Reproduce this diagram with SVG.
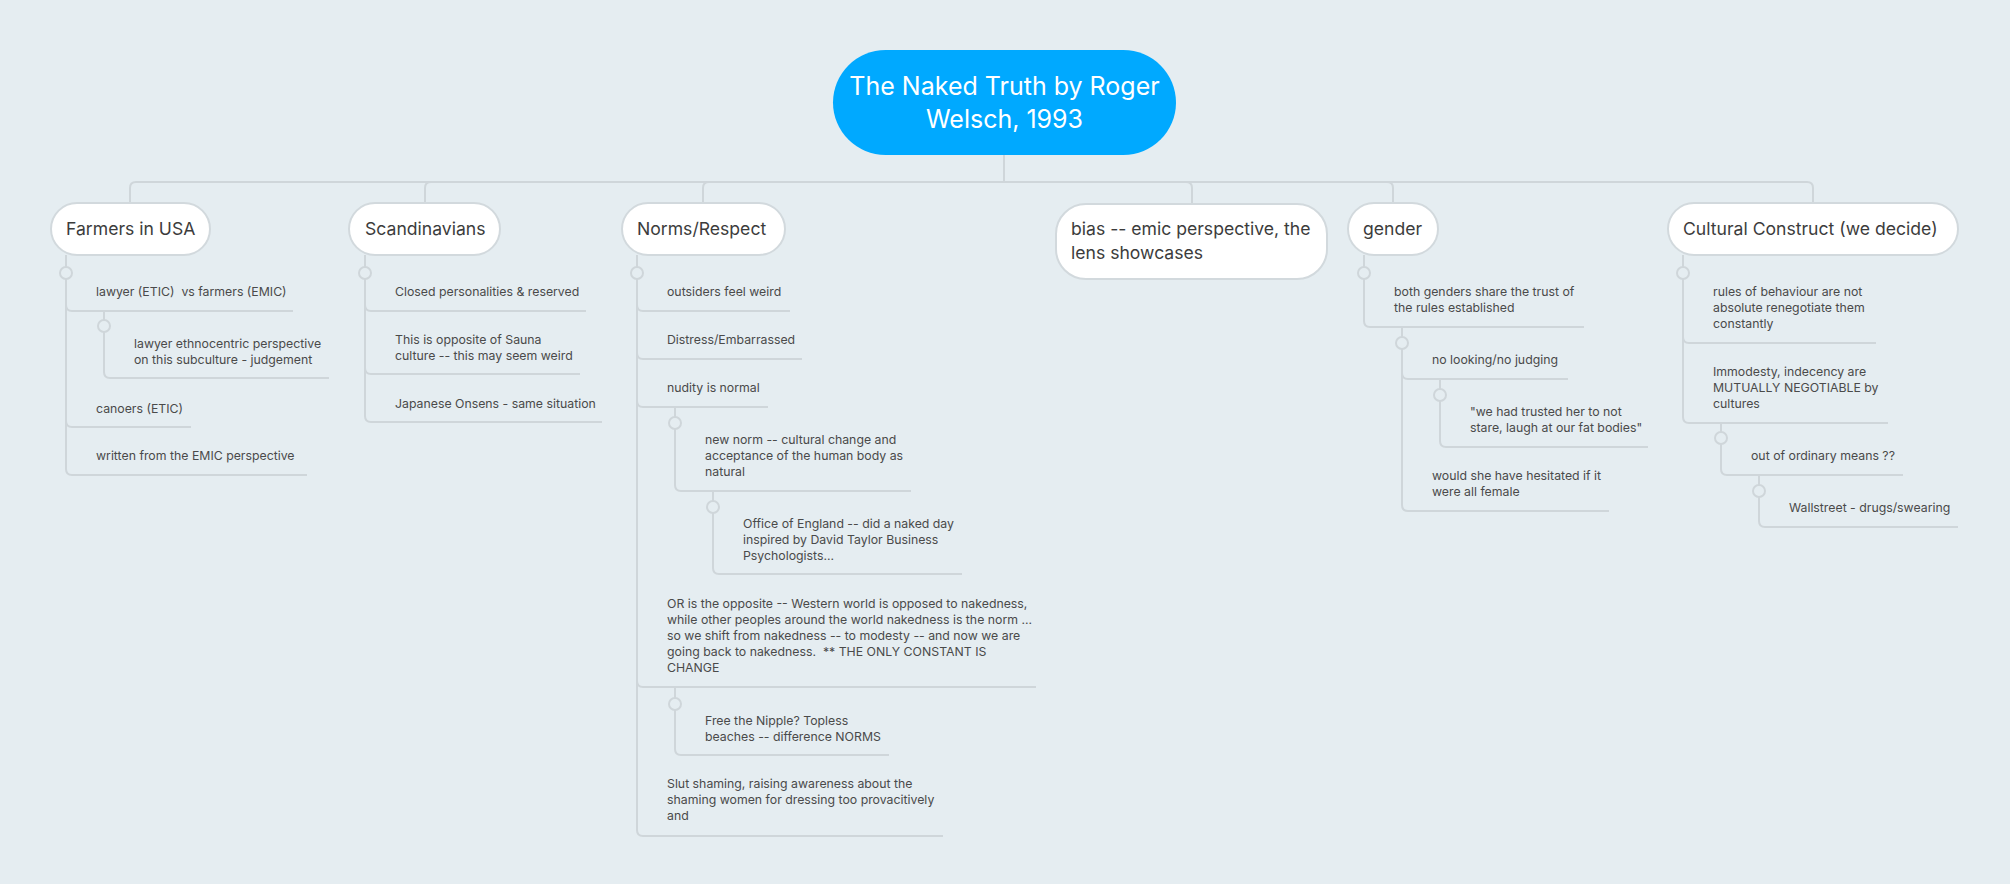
<svg xmlns="http://www.w3.org/2000/svg" width="2010" height="884" viewBox="0 0 2010 884">
<style>
.bg{fill:#e5edf1}
.ln{fill:none;stroke:#cfd6da;stroke-width:2}
.node{fill:#ffffff;stroke:#d2d9dd;stroke-width:2}
.dot{fill:#e5edf1;stroke:#cfd6da;stroke-width:2}
.nt{font-family:Inter,"Liberation Sans",sans-serif;font-size:17.6px;fill:#3c3c3c}
.ct{font-family:Inter,"Liberation Sans",sans-serif;font-size:12.3px;fill:#4a4a4a}
.rt{font-family:Inter,"Liberation Sans",sans-serif;font-size:25px;fill:#ffffff;text-anchor:middle}
</style>
<rect class="bg" x="0" y="0" width="2010" height="884"/>
<g id="connectors">
<path class="ln" d="M1004,155 V182 H136 Q130,182 130,188 V203"/>
<path class="ln" d="M1004,155 V182 H431 Q425,182 425,188 V203"/>
<path class="ln" d="M1004,155 V182 H709 Q703,182 703,188 V203"/>
<path class="ln" d="M1004,155 V182 H1186 Q1192,182 1192,188 V204"/>
<path class="ln" d="M1004,155 V182 H1387 Q1393,182 1393,188 V203"/>
<path class="ln" d="M1004,155 V182 H1807 Q1813,182 1813,188 V203"/>
<path class="ln" d="M66,255 V305 Q66,311 72,311 H293"/>
<path class="ln" d="M104,311 V372 Q104,378 110,378 H329"/>
<path class="ln" d="M66,255 V421 Q66,427 72,427 H191"/>
<path class="ln" d="M66,255 V469 Q66,475 72,475 H307"/>
<path class="ln" d="M365,255 V305 Q365,311 371,311 H586"/>
<path class="ln" d="M365,255 V368 Q365,374 371,374 H580"/>
<path class="ln" d="M365,255 V416 Q365,422 371,422 H602"/>
<path class="ln" d="M637,255 V305 Q637,311 643,311 H790"/>
<path class="ln" d="M637,255 V353 Q637,359 643,359 H802"/>
<path class="ln" d="M637,255 V401 Q637,407 643,407 H768"/>
<path class="ln" d="M675,407 V485 Q675,491 681,491 H911"/>
<path class="ln" d="M713,491 V568 Q713,574 719,574 H962"/>
<path class="ln" d="M637,255 V681 Q637,687 643,687 H1036"/>
<path class="ln" d="M675,687 V749 Q675,755 681,755 H889"/>
<path class="ln" d="M637,255 V830 Q637,836 643,836 H943"/>
<path class="ln" d="M1364,255 V321 Q1364,327 1370,327 H1584"/>
<path class="ln" d="M1402,327 V373 Q1402,379 1408,379 H1568"/>
<path class="ln" d="M1440,379 V441 Q1440,447 1446,447 H1648"/>
<path class="ln" d="M1402,327 V505 Q1402,511 1408,511 H1609"/>
<path class="ln" d="M1683,255 V337 Q1683,343 1689,343 H1876"/>
<path class="ln" d="M1683,255 V417 Q1683,423 1689,423 H1888"/>
<path class="ln" d="M1721,423 V469 Q1721,475 1727,475 H1903"/>
<path class="ln" d="M1759,475 V521 Q1759,527 1765,527 H1958"/>
<circle class="dot" cx="66" cy="273" r="6"/>
<circle class="dot" cx="104" cy="326" r="6"/>
<circle class="dot" cx="365" cy="273" r="6"/>
<circle class="dot" cx="637" cy="273" r="6"/>
<circle class="dot" cx="675" cy="423" r="6"/>
<circle class="dot" cx="713" cy="507" r="6"/>
<circle class="dot" cx="675" cy="704" r="6"/>
<circle class="dot" cx="1364" cy="273" r="6"/>
<circle class="dot" cx="1402" cy="343" r="6"/>
<circle class="dot" cx="1440" cy="395" r="6"/>
<circle class="dot" cx="1683" cy="273" r="6"/>
<circle class="dot" cx="1721" cy="438" r="6"/>
<circle class="dot" cx="1759" cy="491" r="6"/>
</g>
<g id="root">
<rect x="833" y="50" width="343" height="105" rx="52.5" fill="#00a9ff"/>
<text class="rt" x="1004.5" y="95">The Naked Truth by Roger</text>
<text class="rt" x="1004.5" y="128">Welsch, 1993</text>
</g>
<g id="farmers">
<rect class="node" x="51" y="203" width="159" height="52" rx="26"/>
<text class="nt" x="66" y="235">Farmers in USA</text>
</g>
<g id="farmers-c1"><text class="ct" x="96" y="296">lawyer (ETIC)&#160; vs farmers (EMIC)</text></g>
<g id="farmers-c1a"><text class="ct" x="134" y="348">lawyer ethnocentric perspective</text><text class="ct" x="134" y="364">on this subculture - judgement</text></g>
<g id="farmers-c2"><text class="ct" x="96" y="413">canoers (ETIC)</text></g>
<g id="farmers-c3"><text class="ct" x="96" y="460">written from the EMIC perspective</text></g>
<g id="scandinavians">
<rect class="node" x="349" y="203" width="151" height="52" rx="26"/>
<text class="nt" x="365" y="235">Scandinavians</text>
</g>
<g id="scand-c1"><text class="ct" x="395" y="296">Closed personalities &amp; reserved</text></g>
<g id="scand-c2"><text class="ct" x="395" y="344">This is opposite of Sauna</text><text class="ct" x="395" y="360">culture -- this may seem weird</text></g>
<g id="scand-c3"><text class="ct" x="395" y="408">Japanese Onsens - same situation</text></g>
<g id="norms">
<rect class="node" x="622" y="203" width="163" height="52" rx="26"/>
<text class="nt" x="637" y="235">Norms/Respect</text>
</g>
<g id="norms-c1"><text class="ct" x="667" y="296">outsiders feel weird</text></g>
<g id="norms-c2"><text class="ct" x="667" y="344">Distress/Embarrassed</text></g>
<g id="norms-c3"><text class="ct" x="667" y="392">nudity is normal</text></g>
<g id="norms-c3a"><text class="ct" x="705" y="444">new norm -- cultural change and</text><text class="ct" x="705" y="460">acceptance of the human body as</text><text class="ct" x="705" y="476">natural</text></g>
<g id="norms-c3b"><text class="ct" x="743" y="528">Office of England -- did a naked day</text><text class="ct" x="743" y="544">inspired by David Taylor Business</text><text class="ct" x="743" y="560">Psychologists...</text></g>
<g id="norms-c4"><text class="ct" x="667" y="608">OR is the opposite -- Western world is opposed to nakedness,</text><text class="ct" x="667" y="624">while other peoples around the world nakedness is the norm ...</text><text class="ct" x="667" y="640">so we shift from nakedness -- to modesty -- and now we are</text><text class="ct" x="667" y="656">going back to nakedness.&#160; ** THE ONLY CONSTANT IS</text><text class="ct" x="667" y="672">CHANGE</text></g>
<g id="norms-c4a"><text class="ct" x="705" y="725">Free the Nipple? Topless</text><text class="ct" x="705" y="741">beaches -- difference NORMS</text></g>
<g id="norms-c5"><text class="ct" x="667" y="788">Slut shaming, raising awareness about the</text><text class="ct" x="667" y="804">shaming women for dressing too provacitively</text><text class="ct" x="667" y="820">and</text></g>
<g id="bias">
<rect class="node" x="1056" y="204" width="271" height="75" rx="30"/>
<text class="nt" x="1071" y="235">bias -- emic perspective, the</text>
<text class="nt" x="1071" y="259">lens showcases</text>
</g>
<g id="gender">
<rect class="node" x="1348" y="203" width="90" height="52" rx="26"/>
<text class="nt" x="1363" y="235">gender</text>
</g>
<g id="gender-c1"><text class="ct" x="1394" y="296">both genders share the trust of</text><text class="ct" x="1394" y="312">the rules established</text></g>
<g id="gender-c1a"><text class="ct" x="1432" y="364">no looking/no judging</text></g>
<g id="gender-c1a1"><text class="ct" x="1470" y="416">"we had trusted her to not</text><text class="ct" x="1470" y="432">stare, laugh at our fat bodies"</text></g>
<g id="gender-c1b"><text class="ct" x="1432" y="480">would she have hesitated if it</text><text class="ct" x="1432" y="496">were all female</text></g>
<g id="cultural">
<rect class="node" x="1668" y="203" width="290" height="52" rx="26"/>
<text class="nt" x="1683" y="235">Cultural Construct (we decide)</text>
</g>
<g id="cult-c1"><text class="ct" x="1713" y="296">rules of behaviour are not</text><text class="ct" x="1713" y="312">absolute renegotiate them</text><text class="ct" x="1713" y="328">constantly</text></g>
<g id="cult-c2"><text class="ct" x="1713" y="376">Immodesty, indecency are</text><text class="ct" x="1713" y="392">MUTUALLY NEGOTIABLE by</text><text class="ct" x="1713" y="408">cultures</text></g>
<g id="cult-c2a"><text class="ct" x="1751" y="460">out of ordinary means ??</text></g>
<g id="cult-c2a1"><text class="ct" x="1789" y="512">Wallstreet - drugs/swearing</text></g>
</svg>
